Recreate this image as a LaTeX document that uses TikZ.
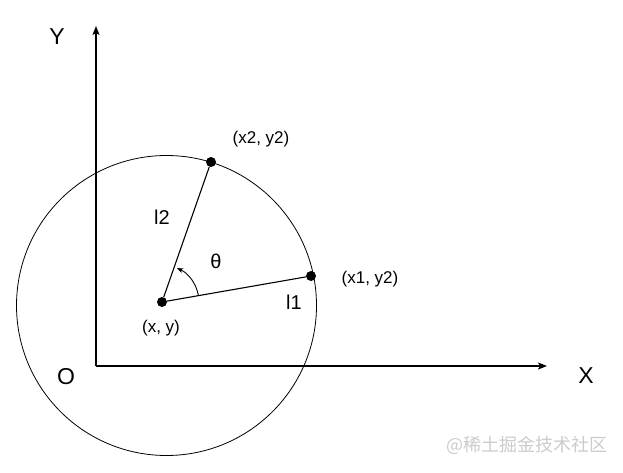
\documentclass[tikz,border=0pt]{standalone}
\usepackage{fontspec}
\setmainfont{Liberation Sans}
\newfontfamily\cjkfont{Noto Sans CJK SC}
\usetikzlibrary{arrows.meta}
\tikzset{
  dot/.style={circle,fill=black,inner sep=0pt,minimum size=10pt},
  axis/.style={line width=1.2pt,-{Stealth[length=9pt,width=7pt,inset=2pt]}},
  seg/.style={line width=1.1pt},
  biglabel/.style={font=\fontsize{23}{26}\selectfont,inner sep=0pt},
  midlabel/.style={font=\fontsize{20}{23}\selectfont,inner sep=0pt},
  smalllabel/.style={font=\fontsize{17}{20}\selectfont,inner sep=0pt},
  wm/.style={font=\cjkfont\fontsize{18}{21}\selectfont,text=black!20,inner sep=0pt}
}
\begin{document}
\begin{tikzpicture}[x=1pt,y=-1pt]
\useasboundingbox (0,0) rectangle (623,473);
\fill[white] (0,0) rectangle (623,473);
% axes
\coordinate (o) at (96,366);
\coordinate (ytip) at (96,26);
\coordinate (xtip) at (547,366);
\draw[axis] (o) -- (ytip);
\draw[axis] (o) -- (xtip);
% circle
\draw[line width=0.8pt] (166.5,305.5) circle[radius=150];
% points
\node[dot] (c) at (162,302) {};
\node[dot] (p1) at (311,276) {};
\node[dot] (p2) at (211,162) {};
\draw[seg] (c) -- (p1);
\draw[seg] (c) -- (p2);
% angle marker
\draw[line width=0.9pt,-{Stealth[length=6pt,width=5pt,inset=1.5pt]}] (c) ++(-11:37) arc[start angle=-11,end angle=-66,radius=37];
% labels
\node[biglabel] (ly) at (57,37) {Y};
\node[biglabel] (lx) at (586,376) {X};
\node[biglabel] (lo) at (66,377) {O};
\node[midlabel] (l2) at (162,217) {l2};
\node[midlabel] (lt) at (216,261) {θ};
\node[midlabel] (l1) at (294,302) {l1};
\node[smalllabel] (lc) at (161,328) {(x, y)};
\node[smalllabel] (lp2) at (261,139) {(x2, y2)};
\node[smalllabel] (lp1) at (370,279) {(x1, y2)};
\node[wm] (w) at (527,445) {@稀土掘金技术社区};
\end{tikzpicture}
\end{document}
